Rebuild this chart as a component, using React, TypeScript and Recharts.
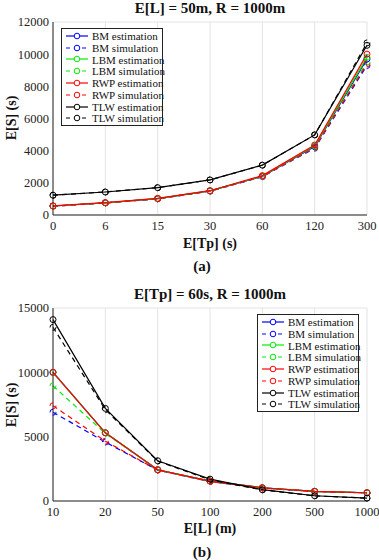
import React from "react";
import { LineChart, Line, XAxis, YAxis, CartesianGrid, Legend } from "recharts";

// ---------- Chart (a) ----------
const tpCategories = ["0", "6", "15", "30", "60", "120", "300"];
const aBmEst = [560, 760, 1020, 1500, 2400, 4250, 9700];
const aBmSim = [550, 750, 1000, 1480, 2380, 4150, 9300];
const aLbmEst = [560, 760, 1020, 1500, 2420, 4300, 9800];
const aLbmSim = [550, 750, 1010, 1490, 2400, 4200, 9500];
const aRwpEst = [570, 770, 1030, 1510, 2450, 4350, 10000];
const aRwpSim = [550, 750, 1010, 1490, 2400, 4200, 9400];
const aTlwEst = [1230, 1430, 1700, 2180, 3100, 4980, 10550];
const aTlwSim = [1230, 1430, 1700, 2180, 3100, 4980, 10700];
const aYTicks = [0, 2000, 4000, 6000, 8000, 10000, 12000];

// ---------- Chart (b) ----------
const lCategories = ["10", "20", "50", "100", "200", "500", "1000"];
const bBmEst = [10000, 5300, 2430, 1550, 1030, 750, 640];
const bBmSim = [6900, 4580, 2400, 1500, 1000, 740, 630];
const bLbmEst = [10000, 5300, 2430, 1550, 1030, 750, 640];
const bLbmSim = [8950, 5250, 2420, 1520, 1010, 740, 630];
const bRwpEst = [10000, 5300, 2430, 1550, 1030, 750, 640];
const bRwpSim = [7400, 4650, 2400, 1520, 1010, 740, 630];
const bTlwEst = [14100, 7200, 3130, 1700, 880, 410, 230];
const bTlwSim = [13500, 7100, 3100, 1650, 860, 400, 220];
const bYTicks = [0, 5000, 10000, 15000];

const seriesMeta = [
  { key: "bmEst", name: "BM estimation", color: "#0000ff", dashed: false },
  { key: "bmSim", name: "BM simulation", color: "#0000ff", dashed: true },
  { key: "lbmEst", name: "LBM estimation", color: "#00ee00", dashed: false },
  { key: "lbmSim", name: "LBM simulation", color: "#00ee00", dashed: true },
  { key: "rwpEst", name: "RWP estimation", color: "#ff0000", dashed: false },
  { key: "rwpSim", name: "RWP simulation", color: "#ff0000", dashed: true },
  { key: "tlwEst", name: "TLW estimation", color: "#000000", dashed: false },
  { key: "tlwSim", name: "TLW simulation", color: "#000000", dashed: true },
];

function build(cols: number[][]) {
  return cols[0].map((_, i) => {
    const row: Record<string, number> = { i };
    seriesMeta.forEach((s, k) => {
      row[s.key] = cols[k][i];
    });
    return row;
  });
}

const dataA = build([aBmEst, aBmSim, aLbmEst, aLbmSim, aRwpEst, aRwpSim, aTlwEst, aTlwSim]);
const dataB = build([bBmEst, bBmSim, bLbmEst, bLbmSim, bRwpEst, bRwpSim, bTlwEst, bTlwSim]);

const FONT = "Liberation Serif, Times New Roman, serif";

const LegendBox = () => (
  <div
    style={{
      border: "1px solid #222",
      background: "#fff",
      padding: "1px 3px 1px 3px",
      fontFamily: FONT,
      fontSize: 11,
      color: "#111",
      width: 94,
    }}
  >
    {seriesMeta.map((s) => (
      <div key={s.key} style={{ display: "flex", alignItems: "center", height: 11.8, whiteSpace: "nowrap" }}>
        <svg width={24} height={10} style={{ marginRight: 3, flex: "none" }}>
          <line
            x1={1}
            y1={5}
            x2={23}
            y2={5}
            stroke={s.color}
            strokeWidth={1.2}
            strokeDasharray={s.dashed ? "4 4" : undefined}
          />
          <circle cx={12} cy={5} r={2.8} fill="#fff" stroke={s.color} strokeWidth={1} />
        </svg>
        <span>{s.name}</span>
      </div>
    ))}
  </div>
);

type PanelProps = {
  data: Record<string, number>[];
  cats: string[];
  yTicks: number[];
  yMax: number;
  legendLeft: number;
  legendTop: number;
};

const makeXTick = (cats: string[]) => (props: any) => (
  <text
    x={props.x}
    y={props.y}
    dy="0.71em"
    textAnchor="middle"
    fontFamily={FONT}
    fontSize={12.5}
    fill="#222"
  >
    {cats[props.payload.value]}
  </text>
);

const YTick = (props: any) => (
  <text
    x={props.x}
    y={props.y}
    dy="0.355em"
    textAnchor="end"
    fontFamily={FONT}
    fontSize={12.5}
    fill="#222"
  >
    {props.payload.value}
  </text>
);

const Panel = ({ data, cats, yTicks, yMax, legendLeft, legendTop }: PanelProps) => (
  <LineChart
    width={379}
    height={260}
    data={data}
    margin={{ top: 22, right: 12, bottom: 25, left: 0 }}
    style={{ fontFamily: FONT }}
  >
    <CartesianGrid stroke="#e3e3e3" strokeWidth={1} />
    <XAxis
      xAxisId="bottom"
      dataKey="i"
      type="number"
      domain={[0, 6]}
      ticks={[0, 1, 2, 3, 4, 5, 6]}
      height={20}
      tickSize={0}
      tickMargin={6}
      axisLine={{ stroke: "#262626" }}
      tick={makeXTick(cats)}
      interval={0}
    />
    <XAxis
      xAxisId="top"
      orientation="top"
      dataKey="i"
      type="number"
      domain={[0, 6]}
      height={0}
      tick={false}
      tickLine={false}
      axisLine={{ stroke: "#262626" }}
    />
    <YAxis
      yAxisId="left"
      domain={[0, yMax]}
      ticks={yTicks}
      width={53}
      tickSize={0}
      tickMargin={4}
      axisLine={{ stroke: "#262626" }}
      tick={YTick}
      interval={0}
    />
    <YAxis
      yAxisId="right"
      orientation="right"
      domain={[0, yMax]}
      width={0}
      tick={false}
      tickLine={false}
      axisLine={{ stroke: "#262626" }}
    />
    <Legend
      layout="vertical"
      align="center"
      verticalAlign="middle"
      content={() => <LegendBox />}
      wrapperStyle={{ position: "absolute", left: legendLeft, top: legendTop, width: "auto", height: "auto" }}
    />
    {seriesMeta.map((s) => (
      <Line
        key={s.key}
        xAxisId="bottom"
        yAxisId="left"
        dataKey={s.key}
        name={s.name}
        stroke={s.color}
        strokeWidth={1.2}
        strokeDasharray={s.dashed ? "5 4" : undefined}
        dot={{ r: 3, strokeWidth: 1, fill: "none", stroke: s.color }}
        isAnimationActive={false}
      />
    ))}
  </LineChart>
);

const textStyle: React.CSSProperties = {
  position: "absolute",
  fontFamily: FONT,
  fontWeight: "bold",
  color: "#111",
  whiteSpace: "nowrap",
  transform: "translate(-50%, -50%)",
};

export default function App() {
  return (
    <div style={{ position: "absolute", left: 0, top: 0, width: 379, height: 560, background: "#fff" }}>
      {/* Panel (a) */}
      <div style={{ ...textStyle, left: 210, top: 8, fontSize: 15 }}>E[L] = 50m, R = 1000m</div>
      <div style={{ position: "absolute", left: 0, top: 0 }}>
        <Panel data={dataA} cats={tpCategories} yTicks={aYTicks} yMax={12000} legendLeft={61} legendTop={28} />
      </div>
      <div style={{ ...textStyle, left: 12, top: 118, fontSize: 14, transform: "translate(-50%, -50%) rotate(-90deg)" }}>
        E[S] (s)
      </div>
      <div style={{ ...textStyle, left: 210, top: 244, fontSize: 14 }}>E[Tp] (s)</div>
      <div style={{ ...textStyle, left: 202, top: 266, fontSize: 15 }}>(a)</div>

      {/* Panel (b) */}
      <div style={{ ...textStyle, left: 210, top: 294, fontSize: 15 }}>E[Tp] = 60s, R = 1000m</div>
      <div style={{ position: "absolute", left: 0, top: 286 }}>
        <Panel data={dataB} cats={lCategories} yTicks={bYTicks} yMax={15000} legendLeft={257} legendTop={28} />
      </div>
      <div style={{ ...textStyle, left: 12, top: 405, fontSize: 14, transform: "translate(-50%, -50%) rotate(-90deg)" }}>
        E[S] (s)
      </div>
      <div style={{ ...textStyle, left: 210, top: 529, fontSize: 14 }}>E[L] (m)</div>
      <div style={{ ...textStyle, left: 202, top: 552, fontSize: 15 }}>(b)</div>
    </div>
  );
}
